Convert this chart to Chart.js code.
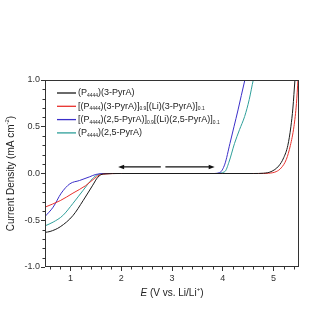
<!DOCTYPE html>
<html>
<head>
<meta charset="utf-8">
<script src="https://cdn.jsdelivr.net/npm/chart.js@4.4.0/dist/chart.umd.min.js"></script>
<style>
  html,body{margin:0;padding:0;background:#fff;}
  #wrap{width:320px;height:320px;}
</style>
</head>
<body>
<div id="wrap"><canvas id="c" width="320" height="320"></canvas></div>
<script>
// series: potential E (V vs Li/Li+) and current density J (mA cm-2)
const E_3PyrA   = [0.5, 0.6, 0.8, 1.05, 1.25, 1.44, 1.54, 1.65, 2, 3, 4, 4.6, 4.8, 4.95, 5.1, 5.2, 5.28, 5.34, 5.38, 5.42, 5.45];
const J_3PyrA   = [-0.63, -0.62, -0.57, -0.45, -0.29, -0.125, -0.04, -0.005, 0, 0, 0, 0, 0.003, 0.02, 0.08, 0.17, 0.3, 0.5, 0.7, 1.0, 1.2];

const E_3PyrALi = [0.5, 0.8, 1.05, 1.3, 1.48, 1.6, 2, 3, 4, 4.7, 4.9, 5.05, 5.15, 5.25, 5.33, 5.4, 5.45, 5.48, 5.5];
const J_3PyrALi = [-0.36, -0.29, -0.21, -0.13, -0.05, -0.01, 0, 0, 0, 0, 0.003, 0.02, 0.06, 0.15, 0.3, 0.5, 0.75, 1.0, 1.15];

const E_25PyrALi = [0.5, 0.66, 0.82, 0.99, 1.18, 1.38, 1.5, 1.7, 2, 3, 3.8, 3.94, 4.04, 4.14, 4.22, 4.30, 4.43, 4.48];
const J_25PyrALi = [-0.46, -0.36, -0.21, -0.11, -0.075, -0.035, -0.01, 0, 0, 0, 0, 0.01, 0.1, 0.32, 0.5, 0.68, 0.99, 1.1];

const E_25PyrA  = [0.5, 0.66, 0.85, 1.05, 1.25, 1.41, 1.51, 1.7, 2, 3, 3.85, 4.04, 4.12, 4.23, 4.33, 4.43, 4.52, 4.6, 4.65];
const J_25PyrA  = [-0.56, -0.52, -0.45, -0.32, -0.18, -0.07, -0.02, 0, 0, 0, 0, 0.02, 0.12, 0.32, 0.47, 0.61, 0.79, 1.0, 1.1];

// legend labels as [text, subscript] pieces
const legendLabels = [
  [['(P',''],['','4444'],[')(3-PyrA)','']],
  [['[(P',''],['','4444'],[')(3-PyrA)]',''],['','0.9'],['[(Li)(3-PyrA)]',''],['','0.1']],
  [['[(P',''],['','4444'],[')(2,5-PyrA)]',''],['','0.9'],['[(Li)(2,5-PyrA)]',''],['','0.1']],
  [['(P',''],['','4444'],[')(2,5-PyrA)','']]
];
const colors = ['#1a1a1a', '#e8302c', '#3b2fc9', '#2e9f9a'];

const xMajor = [1, 2, 3, 4, 5];
const yMajor = [-1.0, -0.5, 0.0, 0.5, 1.0];
const xRange = [0.5, 5.5];
const yRange = [-1.0, 1.0];

// scan-direction arrows (E from, E to, J)
const arrowFrom = [2.78, 2.87];
const arrowTo   = [1.94, 3.84];
const arrowJ    = 0.07;

const FONT = '"Liberation Sans", Arial, sans-serif';

function pts(xs, ys){ return xs.map((x,i)=>({x:x, y:ys[i]})); }

const series = [
  pts(E_3PyrA, J_3PyrA),
  pts(E_3PyrALi, J_3PyrALi),
  pts(E_25PyrALi, J_25PyrALi),
  pts(E_25PyrA, J_25PyrA)
];

function drawPieces(ctx, pieces, x, y, size){
  let cx = x;
  pieces.forEach(p=>{
    if(p[0]){
      ctx.font = size+'px '+FONT;
      ctx.fillText(p[0], cx, y);
      cx += ctx.measureText(p[0]).width;
    }
    if(p[1]){
      ctx.font = (size*0.55)+'px '+FONT;
      ctx.fillText(p[1], cx, y + size*0.3);
      cx += ctx.measureText(p[1]).width;
    }
  });
}

const decor = {
  id:'decor',
  afterDatasetsDraw(chart){
    const ctx = chart.ctx, a = chart.chartArea;
    const xs = chart.scales.x, ys = chart.scales.y;
    ctx.save();
    // frame
    ctx.strokeStyle = '#333'; ctx.lineWidth = 1;
    ctx.strokeRect(a.left+0.5, a.top+0.5, a.right-a.left-1, a.bottom-a.top-1);
    // minor ticks
    ctx.beginPath();
    for(let v=0.6; v<5.5; v+=0.2){
      if(Math.abs(v-Math.round(v))<1e-6) continue;
      const px = Math.round(xs.getPixelForValue(v))+0.5;
      ctx.moveTo(px, a.bottom); ctx.lineTo(px, a.bottom+2.5);
    }
    for(let v=-0.9; v<1.0; v+=0.1){
      if(Math.abs(v*2-Math.round(v*2))<1e-6) continue;
      const py = Math.round(ys.getPixelForValue(v))+0.5;
      ctx.moveTo(a.left, py); ctx.lineTo(a.left-2.5, py);
    }
    ctx.stroke();
    // arrows
    ctx.strokeStyle = '#111'; ctx.fillStyle = '#111'; ctx.lineWidth = 1.2;
    arrowFrom.forEach((f,i)=>{
      const x0 = xs.getPixelForValue(f), x1 = xs.getPixelForValue(arrowTo[i]);
      const py = ys.getPixelForValue(arrowJ);
      const dir = Math.sign(x1-x0);
      ctx.beginPath(); ctx.moveTo(x0, py); ctx.lineTo(x1-dir*5, py); ctx.stroke();
      ctx.beginPath(); ctx.moveTo(x1, py); ctx.lineTo(x1-dir*6, py-2.2); ctx.lineTo(x1-dir*6, py+2.2); ctx.closePath(); ctx.fill();
    });
    // legend
    ctx.textBaseline = 'middle';
    legendLabels.forEach((lab,i)=>{
      const y = 93 + i*13.3;
      ctx.strokeStyle = colors[i]; ctx.lineWidth = 1.3;
      ctx.beginPath(); ctx.moveTo(57, y); ctx.lineTo(76, y); ctx.stroke();
      ctx.fillStyle = '#222';
      drawPieces(ctx, lab, 78, y, 9);
    });
    // axis titles
    ctx.fillStyle = '#222';
    ctx.textBaseline = 'middle';
    const xt1 = 'E', xt2 = ' (V vs. Li/Li', xt3 = '+', xt4 = ')';
    ctx.font = 'italic 10px '+FONT; const w1 = ctx.measureText(xt1).width;
    ctx.font = '10px '+FONT; const w2 = ctx.measureText(xt2).width, w4 = ctx.measureText(xt4).width;
    ctx.font = '6px '+FONT; const w3 = ctx.measureText(xt3).width;
    let cx = (a.left+a.right)/2 - (w1+w2+w3+w4)/2;
    const ty = 293;
    ctx.textAlign = 'left';
    ctx.font = 'italic 10px '+FONT; ctx.fillText(xt1, cx, ty); cx += w1;
    ctx.font = '10px '+FONT; ctx.fillText(xt2, cx, ty); cx += w2;
    ctx.font = '6px '+FONT; ctx.fillText(xt3, cx, ty-4); cx += w3;
    ctx.font = '10px '+FONT; ctx.fillText(xt4, cx, ty);
    // y title
    ctx.translate(11, (a.top+a.bottom)/2);
    ctx.rotate(-Math.PI/2);
    const yt1 = 'Current Density (mA cm', yt2 = '-2', yt3 = ')';
    ctx.font = '10px '+FONT; const v1 = ctx.measureText(yt1).width, v3 = ctx.measureText(yt3).width;
    ctx.font = '6px '+FONT; const v2 = ctx.measureText(yt2).width;
    let cy = -(v1+v2+v3)/2;
    ctx.font = '10px '+FONT; ctx.fillText(yt1, cy, 0); cy += v1;
    ctx.font = '6px '+FONT; ctx.fillText(yt2, cy, -4); cy += v2;
    ctx.font = '10px '+FONT; ctx.fillText(yt3, cy, 0);
    ctx.restore();
  }
};

new Chart(document.getElementById('c'), {
  type:'line',
  data:{
    datasets: series.map((d,i)=>({
      data:d, borderColor:colors[i], borderWidth:1, pointRadius:0,
      cubicInterpolationMode:'monotone', fill:false
    }))
  },
  options:{
    responsive:false, animation:false,
    layout:{ padding:{ left:0, top:80, right:21, bottom:0 } },
    plugins:{ legend:{display:false}, tooltip:{enabled:false} },
    scales:{
      x:{
        type:'linear', min:xRange[0], max:xRange[1],
        afterBuildTicks:s=>{ s.ticks = xMajor.map(v=>({value:v})); },
        afterFit:s=>{ s.height = 53; },
        border:{display:false},
        grid:{ drawOnChartArea:false, drawTicks:true, tickLength:4, color:'#333' },
        ticks:{ font:{family:FONT, size:9}, color:'#333', padding:2, maxRotation:0,
                callback:v=>String(v) }
      },
      y:{
        type:'linear', min:yRange[0], max:yRange[1],
        afterBuildTicks:s=>{ s.ticks = yMajor.map(v=>({value:v})); },
        afterFit:s=>{ s.width = 45; },
        border:{display:false},
        grid:{ drawOnChartArea:false, drawTicks:true, tickLength:4, color:'#333' },
        ticks:{ font:{family:FONT, size:9}, color:'#333', padding:1,
                callback:v=>v.toFixed(1) }
      }
    }
  },
  plugins:[decor]
});
</script>
</body>
</html>
